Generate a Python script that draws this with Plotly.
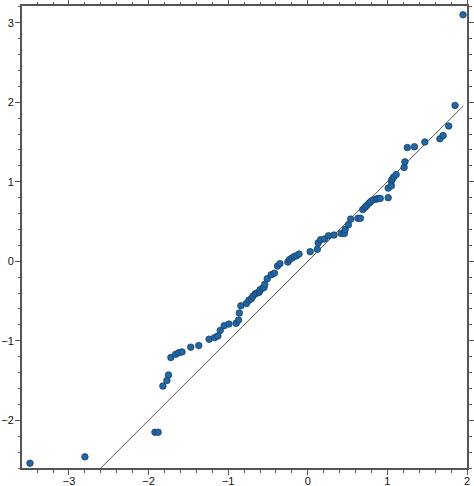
import plotly.graph_objects as go

# Q-Q plot points (theoretical x, sample y)
qx = [-3.49, -2.80, -1.92, -1.88, -1.82, -1.77, -1.75, -1.72, -1.66, -1.62,
      -1.58, -1.47, -1.37, -1.24, -1.17, -1.13, -1.10, -1.05, -0.99, -0.90,
      -0.87, -0.86, -0.84, -0.77, -0.74, -0.71, -0.69, -0.66, -0.64, -0.61,
      -0.60, -0.57, -0.55, -0.54, -0.51, -0.46, -0.42, -0.38, -0.35, -0.25,
      -0.23, -0.20, -0.17, -0.14, -0.11, 0.03, 0.12, 0.13, 0.16, 0.21,
      0.26, 0.33, 0.42, 0.46, 0.47, 0.51, 0.54, 0.63, 0.66, 0.69,
      0.72, 0.74, 0.77, 0.79, 0.82, 0.86, 0.88, 0.91, 1.01, 1.01,
      1.05, 1.05, 1.06, 1.08, 1.11, 1.21, 1.22, 1.25, 1.34, 1.47,
      1.66, 1.70, 1.77, 1.85, 1.95]
qy = [-2.54, -2.46, -2.15, -2.15, -1.57, -1.50, -1.43, -1.21, -1.17, -1.15,
      -1.14, -1.08, -1.06, -0.98, -0.96, -0.94, -0.87, -0.81, -0.79, -0.78,
      -0.74, -0.65, -0.56, -0.53, -0.49, -0.47, -0.44, -0.41, -0.40, -0.39,
      -0.36, -0.34, -0.33, -0.29, -0.22, -0.17, -0.15, -0.06, -0.03, -0.01,
      0.02, 0.04, 0.06, 0.07, 0.09, 0.12, 0.15, 0.23, 0.27, 0.28,
      0.32, 0.33, 0.35, 0.35, 0.40, 0.46, 0.53, 0.54, 0.54, 0.65,
      0.68, 0.70, 0.73, 0.75, 0.77, 0.78, 0.79, 0.79, 0.80, 0.92,
      0.95, 1.01, 1.03, 1.06, 1.09, 1.18, 1.25, 1.43, 1.44, 1.50,
      1.54, 1.58, 1.70, 1.96, 3.10]

# reference line y = x
line_x = [-2.62, 1.955]
line_y = [-2.62, 1.955]

x_range = [-3.59, 2.0]
y_range = [-2.60, 3.21]

fig = go.Figure()
fig.add_trace(go.Scatter(x=line_x, y=line_y, mode="lines",
                         line=dict(color="#5e4e46", width=1), hoverinfo="skip"))
fig.add_trace(go.Scatter(x=qx, y=qy, mode="markers",
                         marker=dict(size=6.5, color="#1f67a8",
                                     line=dict(color="#163f63", width=0.8))))

axis_common = dict(
    showgrid=False, zeroline=False, showline=True, mirror="ticks",
    linecolor="#555555", linewidth=2, ticks="outside", ticklen=5,
    tickwidth=1, tickcolor="#555555", dtick=1,
    tickfont=dict(family="Liberation Sans, Arial, sans-serif", size=11, color="#111111"),
    minor=dict(dtick=0.2, ticks="outside", ticklen=2.5, tickwidth=1, tickcolor="#555555"),
)

fig.update_layout(
    width=474, height=486,
    margin=dict(l=22, r=7, t=6, b=18, autoexpand=False),
    paper_bgcolor="white", plot_bgcolor="white",
    showlegend=False,
    xaxis=dict(range=x_range, tick0=0, ticklabelstandoff=-3, **axis_common),
    yaxis=dict(range=y_range, tick0=0, ticklabelstandoff=-1, **axis_common),
)

fig.write_html("out.html", config={"displayModeBar": False},
               post_script="document.body.style.margin='0';document.body.style.overflow='hidden';")
